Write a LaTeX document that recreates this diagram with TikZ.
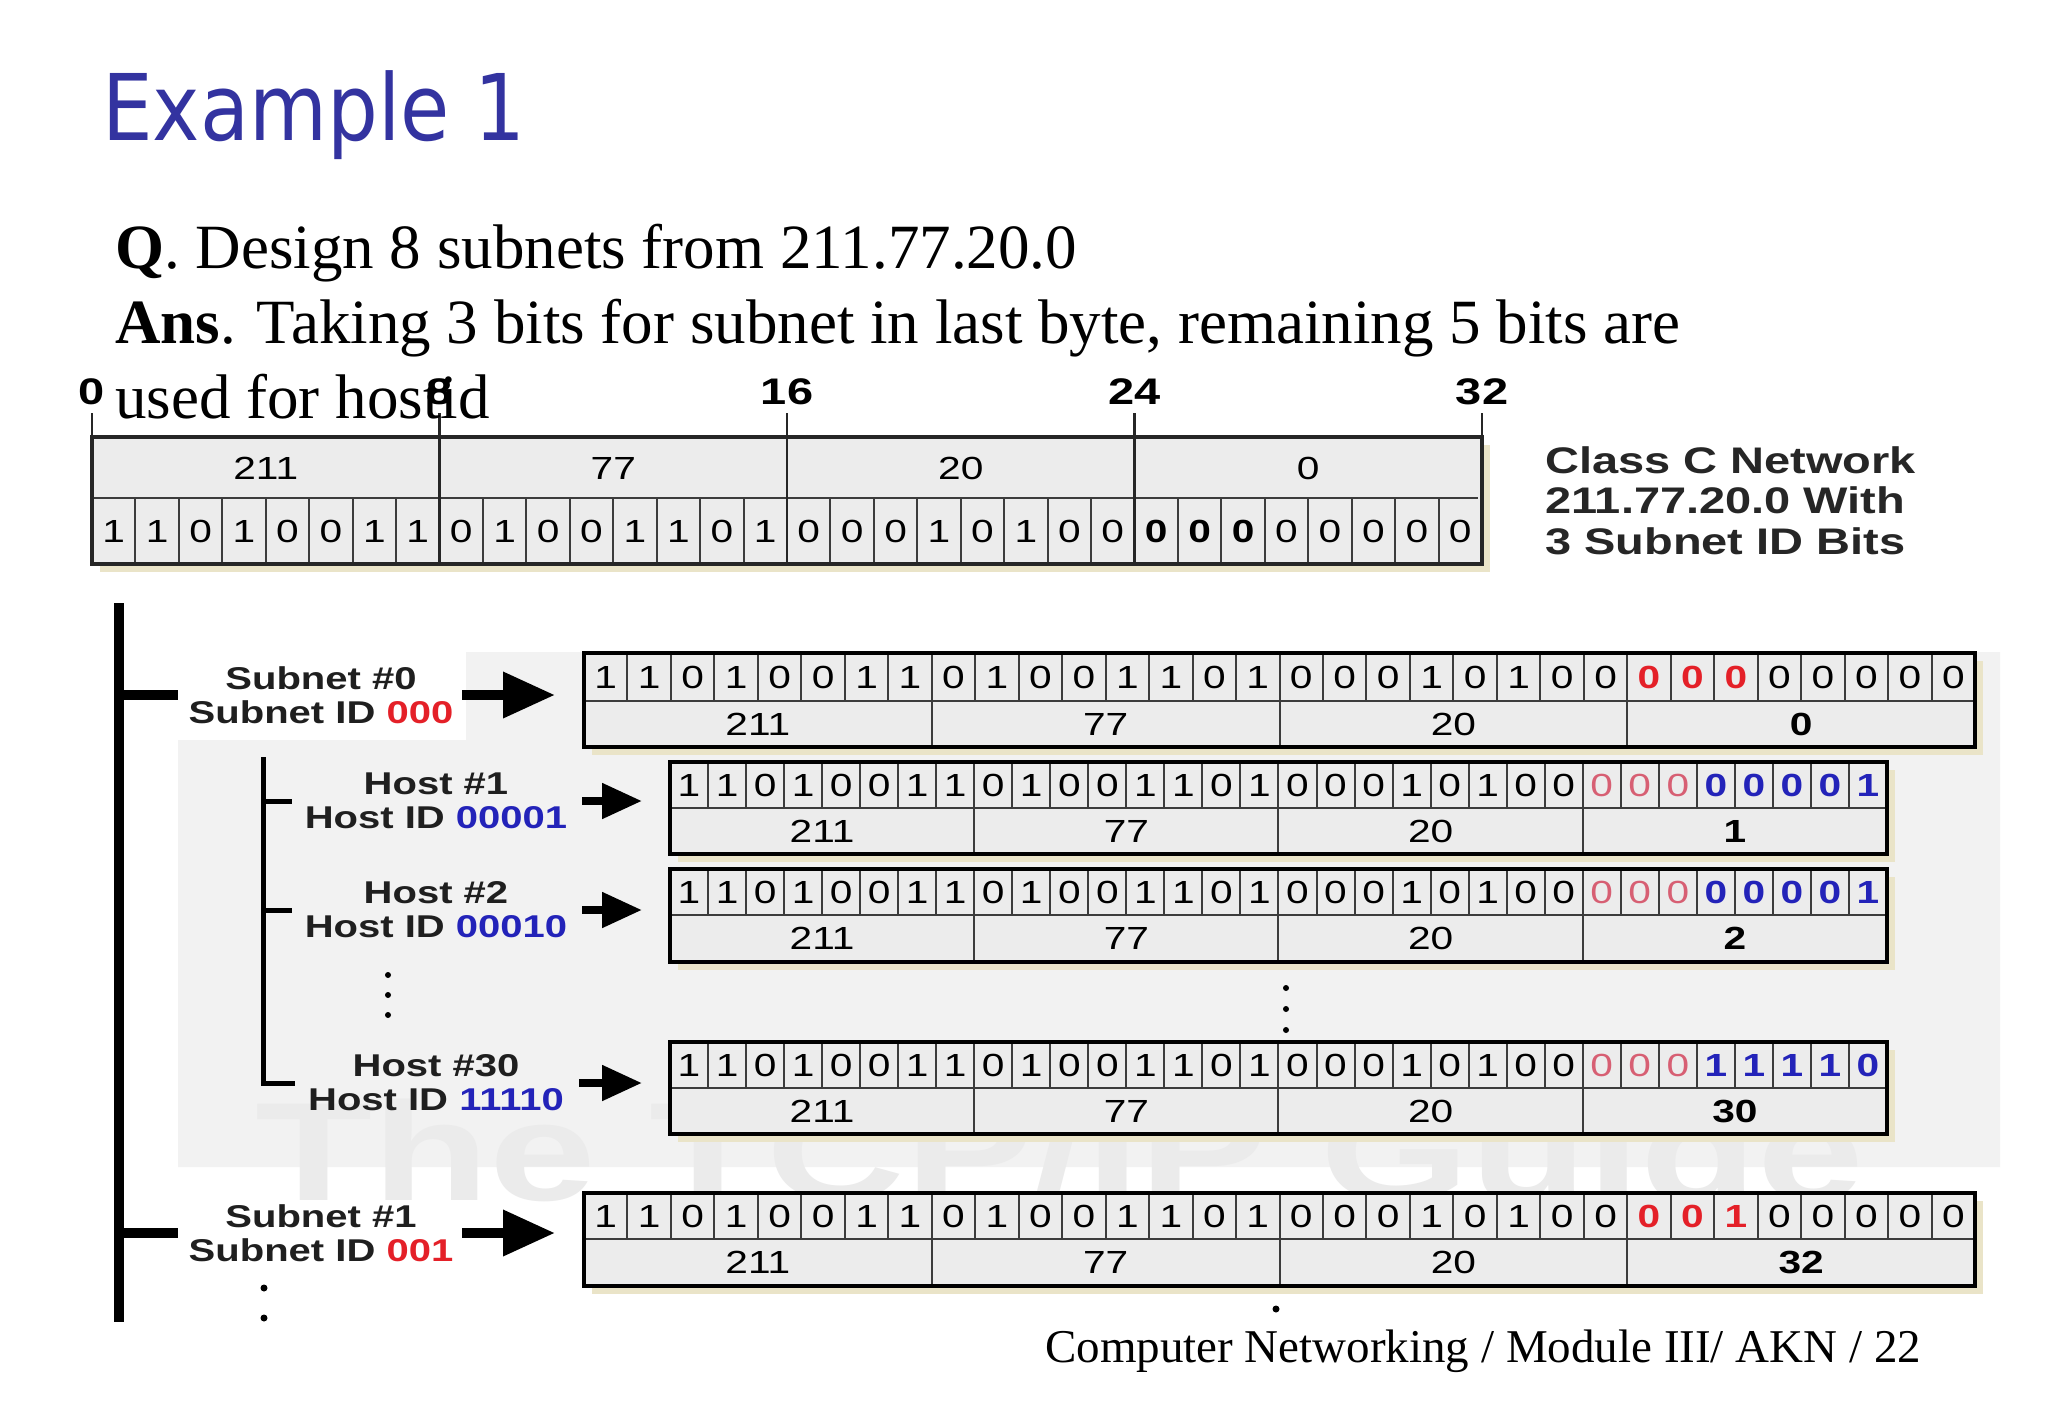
\documentclass[tikz,border=0pt]{standalone}
\usepackage{fontspec}
\usetikzlibrary{arrows.meta,shadows}
\setmainfont{Liberation Serif}
\newfontfamily\titlefont{DejaVu Sans}[FakeStretch=0.87]
\newfontfamily\diagfont{Liberation Sans}[FakeStretch=1.27]
\newfontfamily\wmfont{Liberation Sans}[FakeStretch=1.37]
\definecolor{titleblue}{RGB}{51,51,160}
\definecolor{bitred}{RGB}{228,32,40}
\definecolor{bitpink}{RGB}{215,95,115}
\definecolor{bitblue}{RGB}{35,35,185}
\definecolor{cellgray}{RGB}{236,236,236}
\definecolor{panelgray}{RGB}{242,242,242}
\definecolor{shadowbeige}{RGB}{234,228,200}
\definecolor{linegray}{RGB}{60,60,60}
\definecolor{wmgray}{RGB}{235,235,235}
\newcommand\rbit[1]{\textcolor{bitred}{\bfseries #1}}
\newcommand\pbit[1]{\textcolor{bitpink}{#1}}
\newcommand\bbit[1]{\textcolor{bitblue}{\bfseries #1}}
\newcommand\kbit[1]{{\bfseries #1}}
\tikzset{
  bitnum/.style={font=\diagfont\fontsize{32}{32}\selectfont, inner sep=0pt, anchor=center},
  ticklab/.style={font=\diagfont\bfseries\fontsize{37}{37}\selectfont, inner sep=0pt, anchor=center},
  cctext/.style={font=\diagfont\bfseries\fontsize{37}{37}\selectfont, inner sep=0pt, anchor=base west, text=black!85},
  lab/.style={font=\diagfont\bfseries\fontsize{31.5}{34}\selectfont, align=center, inner sep=0pt, text=black!88},
  qtext/.style={font=\fontsize{63}{63}\selectfont, inner sep=0pt, anchor=base west},
  gridbg/.style={fill=cellgray, inner sep=0pt, outer sep=0pt,
    general shadow={fill=shadowbeige, shadow xshift=8pt, shadow yshift=-8pt}},
  frame/.style={line width=4pt, draw=black},
  topframe/.style={line width=3.5pt, draw=black!85},
  cellline/.style={line width=2pt, draw=linegray},
  byteline/.style={line width=2.5pt, draw=black!85},
  mainbar/.style={line width=10pt, line join=miter},
  hostbar/.style={line width=5pt, line join=miter},
  bigarrow/.style={line width=10pt, -{Triangle[length=52pt,width=44pt]}},
  smallarrow/.style={line width=8pt, -{Triangle[length=40pt,width=34pt]}},
  dotmark/.style={fill=black}
}
% #1 name, #2 x0, #3 y0, #4 cell width, #5 bit row h, #6 dec row h, #7 bits, #8 decimals
\newcommand\mkgrid[8]{%
  \pgfmathsetmacro\gw{32*#4}%
  \pgfmathsetmacro\gh{#5+#6}%
  \node[gridbg, minimum width=\gw pt, minimum height=\gh pt, anchor=north west] (#1) at (#2,#3) {};
  \foreach \i in {1,...,31} \draw[cellline] ({#2+\i*#4},#3) -- ++(0,#5);
  \draw[cellline] (#2,#3+#5) -- ++(\gw,0);
  \foreach \i in {1,2,3} \draw[cellline] ({#2+\i*8*#4},#3+#5) -- ++(0,#6);
  \foreach \b [count=\i from 0] in {#7} \node[bitnum] (#1-b\i) at ({#2+(\i+0.5)*#4},{#3+0.5*#5}) {\b};
  \foreach \d [count=\i from 0] in {#8} \node[bitnum] (#1-d\i) at ({#2+(\i*8+4)*#4},{#3+#5+0.5*#6}) {\d};
  \draw[frame] (#1.north west) rectangle (#1.south east);
}
\begin{document}
\begin{tikzpicture}[x=1pt,y=-1pt]
\useasboundingbox[fill=white] (0,0) rectangle (2048,1418);
% background panel
\fill[panelgray] (178,740) -- (466,740) -- (466,652) -- (2000,652) -- (2000,1167) -- (178,1167) -- cycle;
% watermark
\node[anchor=base west, inner sep=0pt, font=\wmfont\bfseries\fontsize{140}{140}\selectfont, text=wmgray] (wm) at (255,1200) {The TCP/IP Guide};
% title and question
\node[anchor=base west, inner sep=0pt, font=\titlefont\fontsize{92}{92}\selectfont, text=titleblue] (title) at (102,141) {Example 1};
\node[qtext] (q1) at (115,268) {\textbf{Q}. Design 8 subnets from 211.77.20.0};
\node[qtext] (q2) at (115,343) {\textbf{Ans}. Taking 3 bits for subnet in last byte, remaining 5 bits are};
% top grid
\node[gridbg, minimum width=1390pt, minimum height=127pt, anchor=north west] (top) at (92,437) {};
\foreach \i in {1,...,31} \draw[cellline] ({92+\i*43.4375},498) -- ({92+\i*43.4375},564);
\draw[cellline] (92,498) -- (1478,498);
\foreach \i in {8,16,24} \draw[byteline] ({92+\i*43.4375},413) -- ({92+\i*43.4375},564);
\draw[byteline] (92,413) -- (92,437);
\draw[byteline] (1482,413) -- (1482,437);
\foreach \i in {0,8,16,24,32} \node[ticklab] (tk\i) at ({92+\i*43.4375},392) {\i};
\foreach \d [count=\i from 0] in {211,77,20,0} \node[bitnum] (topd\i) at ({92+(\i*8+4)*43.4375},468) {\d};
\foreach \b [count=\i from 0] in {1,1,0,1,0,0,1,1,0,1,0,0,1,1,0,1,0,0,0,1,0,1,0,0,\kbit{0},\kbit{0},\kbit{0},0,0,0,0,0}
  \node[bitnum] (topb\i) at ({92+(\i+0.5)*43.4375},531) {\b};
\draw[topframe] (top.north west) rectangle (top.south east);
\node[qtext] (q3) at (115,418) {used for hostid};
\node[cctext] (cc1) at (1545,473) {Class C Network};
\node[cctext] (cc2) at (1545,513) {211.77.20.0 With};
\node[cctext] (cc3) at (1545,554) {3 Subnet ID Bits};
% subnet and host grids
\mkgrid{s0}{584}{653}{43.47}{48}{46}{1,1,0,1,0,0,1,1,0,1,0,0,1,1,0,1,0,0,0,1,0,1,0,0,\rbit{0},\rbit{0},\rbit{0},0,0,0,0,0}{211,77,20,\kbit{0}}
\mkgrid{h1}{670}{762}{38.03}{46}{46}{1,1,0,1,0,0,1,1,0,1,0,0,1,1,0,1,0,0,0,1,0,1,0,0,\pbit{0},\pbit{0},\pbit{0},\bbit{0},\bbit{0},\bbit{0},\bbit{0},\bbit{1}}{211,77,20,\kbit{1}}
\mkgrid{h2}{670}{869}{38.03}{46}{47}{1,1,0,1,0,0,1,1,0,1,0,0,1,1,0,1,0,0,0,1,0,1,0,0,\pbit{0},\pbit{0},\pbit{0},\bbit{0},\bbit{0},\bbit{0},\bbit{0},\bbit{1}}{211,77,20,\kbit{2}}
\mkgrid{h30}{670}{1042}{38.03}{46}{46}{1,1,0,1,0,0,1,1,0,1,0,0,1,1,0,1,0,0,0,1,0,1,0,0,\pbit{0},\pbit{0},\pbit{0},\bbit{1},\bbit{1},\bbit{1},\bbit{1},\bbit{0}}{211,77,20,\kbit{30}}
\mkgrid{s1}{584}{1193}{43.47}{46}{47}{1,1,0,1,0,0,1,1,0,1,0,0,1,1,0,1,0,0,0,1,0,1,0,0,\rbit{0},\rbit{0},\rbit{1},0,0,0,0,0}{211,77,20,\kbit{32}}
% labels
\node[lab] (s0lab) at (321,695) {Subnet \#0\\Subnet ID \textcolor{bitred}{000}};
\node[lab] (h1lab) at (436,801) {Host \#1\\Host ID \textcolor{bitblue}{00001}};
\node[lab] (h2lab) at (436,910) {Host \#2\\Host ID \textcolor{bitblue}{00010}};
\node[lab] (h30lab) at (436,1083) {Host \#30\\Host ID \textcolor{bitblue}{11110}};
\node[lab] (s1lab) at (321,1233) {Subnet \#1\\Subnet ID \textcolor{bitred}{001}};
% bars
\coordinate (bartop) at (119,603);
\coordinate (barbot) at (119,1322);
\draw[mainbar] (bartop) -- (barbot);
\draw[mainbar] (bartop |- s0lab.west) -- ([xshift=-11pt]s0lab.west);
\draw[mainbar] (bartop |- s1lab.west) -- ([xshift=-11pt]s1lab.west);
\coordinate (hbtop) at (263,757);
\draw[hostbar] (hbtop) -- (hbtop |- h30lab.west) -- ([xshift=-13pt]h30lab.west);
\draw[hostbar] (hbtop |- h1lab.west) -- ([xshift=-13pt]h1lab.west);
\draw[hostbar] (hbtop |- h2lab.west) -- ([xshift=-13pt]h2lab.west);
% arrows
\draw[bigarrow] ([xshift=9pt]s0lab.east) -- ([xshift=-29pt]s0lab.east -| s0.west);
\draw[bigarrow] ([xshift=9pt]s1lab.east) -- ([xshift=-29pt]s1lab.east -| s1.west);
\draw[smallarrow] ([xshift=15pt]h1lab.east) -- ([xshift=-28pt]h1lab.east -| h1.west);
\draw[smallarrow] ([xshift=15pt]h2lab.east) -- ([xshift=-28pt]h2lab.east -| h2.west);
\draw[smallarrow] ([xshift=15pt]h30lab.east) -- ([xshift=-28pt]h30lab.east -| h30.west);
% ellipsis dots
\foreach \y in {975,995,1015} \fill[dotmark] (388,\y) circle (3);
\foreach \y in {988,1009,1030} \fill[dotmark] (1286,\y) circle (3);
\foreach \y in {1288,1318} \fill[dotmark] (264,\y) circle (3.5);
\fill[dotmark] (1276,1309) circle (3.5);
% footer
\node[anchor=base west, inner sep=0pt, font=\fontsize{47}{47}\selectfont] (foot) at (1045,1362) {Computer Networking / Module III/ AKN / 22};
\end{tikzpicture}
\end{document}
